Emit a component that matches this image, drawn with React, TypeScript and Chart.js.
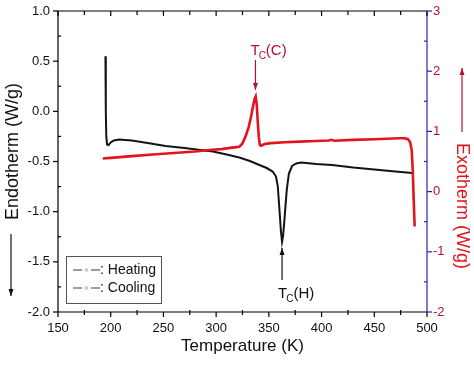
import React, { useEffect, useRef } from "react";
import { Chart, registerables } from "chart.js";
Chart.register(...registerables);

const heatingT = [195.0, 195.2, 195.5, 195.8, 196.5, 198, 200, 203, 208, 220, 235, 252, 270, 285, 297, 310, 322, 332, 341, 348, 353.6, 356.8, 358.5, 359.5, 360.5, 361.5, 362.5, 363.5, 364.5, 365.5, 367, 369, 372, 376, 380.5, 395, 410, 430, 450, 470, 486];
const heatingW = [0.55, 0.3, 0.0, -0.25, -0.33, -0.336, -0.31, -0.29, -0.28, -0.29, -0.315, -0.345, -0.365, -0.385, -0.4, -0.43, -0.46, -0.495, -0.535, -0.565, -0.6, -0.65, -0.75, -0.9, -1.05, -1.2, -1.3, -1.24, -1.12, -0.98, -0.78, -0.62, -0.545, -0.52, -0.51, -0.525, -0.535, -0.56, -0.58, -0.6, -0.615];

const coolingT = [192.5, 200, 220, 240, 260, 280, 293.5, 305, 315, 322, 325, 328.4, 331, 333, 335, 336.5, 337.5, 338.5, 339.5, 340.5, 341.5, 343, 346, 352, 365, 379, 395, 407, 409, 412, 430, 450, 474, 479, 482, 484, 485.5, 486.5, 487.3, 488.3];
const coolingW = [0.55, 0.56, 0.59, 0.615, 0.64, 0.665, 0.69, 0.705, 0.73, 0.745, 0.8, 0.94, 1.08, 1.24, 1.42, 1.54, 1.58, 1.45, 1.15, 0.9, 0.77, 0.765, 0.79, 0.805, 0.82, 0.83, 0.84, 0.85, 0.86, 0.845, 0.86, 0.87, 0.885, 0.885, 0.87, 0.82, 0.69, 0.35, -0.1, -0.58];

const xTicks = [150, 200, 250, 300, 350, 400, 450, 500];
const xMinor = [175, 225, 275, 325, 375, 425, 475];
const leftTicks = [1.0, 0.5, 0.0, -0.5, -1.0, -1.5, -2.0];
const leftMinor = [0.75, 0.25, -0.25, -0.75, -1.25, -1.75];
const rightTicks = [3, 2, 1, 0, -1, -2];
const rightMinor = [2.5, 1.5, 0.5, -0.5, -1.5];

const FONT = '"Liberation Sans", Arial, sans-serif';
const RED = "#e3141e";
const DARKRED = "#b5112e";
const BLUE = "#2424b4";

function arrow(ctx: CanvasRenderingContext2D, x: number, y1: number, y2: number, color: string) {
  ctx.save();
  ctx.strokeStyle = color;
  ctx.fillStyle = color;
  ctx.lineWidth = 1.2;
  ctx.beginPath();
  ctx.moveTo(x, y1);
  ctx.lineTo(x, y2);
  ctx.stroke();
  const d = y2 > y1 ? 1 : -1;
  ctx.beginPath();
  ctx.moveTo(x, y2);
  ctx.lineTo(x - 2.5, y2 - d * 7);
  ctx.lineTo(x + 2.5, y2 - d * 7);
  ctx.closePath();
  ctx.fill();
  ctx.restore();
}

function tcLabel(ctx: CanvasRenderingContext2D, x: number, y: number, tail: string, color: string) {
  ctx.save();
  ctx.fillStyle = color;
  ctx.textBaseline = "alphabetic";
  ctx.textAlign = "left";
  ctx.font = `15px ${FONT}`;
  ctx.fillText("T", x, y);
  let w = ctx.measureText("T").width;
  ctx.font = `10px ${FONT}`;
  ctx.fillText("C", x + w - 1, y + 4);
  w += ctx.measureText("C").width - 1;
  ctx.font = `15px ${FONT}`;
  ctx.fillText(tail, x + w, y);
  ctx.restore();
}

const axesPlugin = {
  id: "customAxes",
  afterDraw(chart: any) {
    const ctx: CanvasRenderingContext2D = chart.ctx;
    const { left, right, top, bottom } = chart.chartArea;
    const xs = chart.scales.x;
    const ys = chart.scales.y;
    const y2 = chart.scales.y2;
    ctx.save();
    ctx.lineWidth = 1.2;
    ctx.strokeStyle = "#000";
    ctx.beginPath();
    ctx.moveTo(right, top);
    ctx.lineTo(left, top);
    ctx.lineTo(left, bottom);
    ctx.lineTo(right, bottom);
    ctx.stroke();
    ctx.strokeStyle = BLUE;
    ctx.beginPath();
    ctx.moveTo(right, top);
    ctx.lineTo(right, bottom);
    ctx.stroke();

    ctx.strokeStyle = "#000";
    ctx.fillStyle = "#111";
    ctx.font = `13px ${FONT}`;
    ctx.textAlign = "center";
    ctx.textBaseline = "middle";
    xTicks.forEach((v) => {
      const px = xs.getPixelForValue(v);
      ctx.beginPath();
      ctx.moveTo(px, bottom);
      ctx.lineTo(px, bottom + 5);
      ctx.moveTo(px, top);
      ctx.lineTo(px, top + 5);
      ctx.stroke();
      ctx.fillText(String(v), px, bottom + 16);
    });
    xMinor.forEach((v) => {
      const px = xs.getPixelForValue(v);
      ctx.beginPath();
      ctx.moveTo(px, bottom - 2);
      ctx.lineTo(px, bottom + 3);
      ctx.moveTo(px, top);
      ctx.lineTo(px, top + 4);
      ctx.stroke();
    });

    ctx.textAlign = "right";
    ctx.textBaseline = "middle";
    leftTicks.forEach((v) => {
      const py = ys.getPixelForValue(v);
      ctx.beginPath();
      ctx.moveTo(left - 5, py);
      ctx.lineTo(left, py);
      ctx.stroke();
      ctx.fillText(v.toFixed(1), left - 8, py);
    });
    leftMinor.forEach((v) => {
      const py = ys.getPixelForValue(v);
      ctx.beginPath();
      ctx.moveTo(left, py);
      ctx.lineTo(left + 3, py);
      ctx.stroke();
    });

    ctx.strokeStyle = BLUE;
    ctx.fillStyle = DARKRED;
    ctx.textAlign = "left";
    rightTicks.forEach((v) => {
      const py = y2.getPixelForValue(v);
      ctx.beginPath();
      ctx.moveTo(right, py);
      ctx.lineTo(right + 5, py);
      ctx.stroke();
      ctx.fillText(String(v), right + 6, py);
    });
    rightMinor.forEach((v) => {
      const py = y2.getPixelForValue(v);
      ctx.beginPath();
      ctx.moveTo(right - 3, py);
      ctx.lineTo(right, py);
      ctx.stroke();
    });

    ctx.fillStyle = "#111";
    ctx.font = `17px ${FONT}`;
    ctx.textAlign = "center";
    ctx.textBaseline = "middle";
    ctx.fillText("Temperature (K)", 242.5, 346);

    ctx.font = `18px ${FONT}`;
    ctx.save();
    ctx.translate(13, 151.5);
    ctx.rotate(-Math.PI / 2);
    ctx.fillText("Endotherm (W/g)", 0, 0);
    ctx.restore();
    arrow(ctx, 11, 234, 296, "#111");

    ctx.save();
    ctx.fillStyle = RED;
    ctx.translate(462, 206);
    ctx.rotate(Math.PI / 2);
    ctx.fillText("Exotherm (W/g)", 0, 0);
    ctx.restore();
    arrow(ctx, 462, 132, 68, DARKRED);

    const pkX = xs.getPixelForValue(337.3);
    tcLabel(ctx, pkX - 5, 55, "(C)", DARKRED);
    arrow(ctx, pkX, 60, 90, DARKRED);
    const mnX = xs.getPixelForValue(362.5);
    arrow(ctx, mnX, 280, 248, "#111");
    tcLabel(ctx, mnX - 4, 298, "(H)", "#111");

    ctx.strokeStyle = "#555";
    ctx.lineWidth = 1;
    ctx.strokeRect(66.5, 256.5, 95, 47);
    const entries: [string, string, number][] = [
      ["#3a3a3a", ": Heating", 270],
      ["#3434b8", ": Cooling", 288],
    ];
    entries.forEach(([c, label, y]) => {
      ctx.strokeStyle = c;
      ctx.lineWidth = 1.2;
      ctx.beginPath();
      ctx.moveTo(73, y);
      ctx.lineTo(82, y);
      ctx.moveTo(91, y);
      ctx.lineTo(100, y);
      ctx.stroke();
      ctx.strokeStyle = "#999";
      ctx.lineWidth = 0.8;
      ctx.beginPath();
      ctx.arc(86.5, y, 1.3, 0, Math.PI * 2);
      ctx.stroke();
      ctx.fillStyle = "#111";
      ctx.font = `14px ${FONT}`;
      ctx.textAlign = "left";
      ctx.textBaseline = "middle";
      ctx.fillText(label, 100, y);
    });
    ctx.restore();
  },
};

export default function App() {
  const ref = useRef<HTMLCanvasElement>(null);
  useEffect(() => {
    document.body.style.margin = "0";
    const heat = heatingT.map((t, i) => ({ x: t, y: heatingW[i] }));
    const cool = coolingT.map((t, i) => ({ x: t, y: coolingW[i] }));
    const chart = new Chart(ref.current!, {
      type: "line",
      data: {
        datasets: [
          {
            label: "Heating",
            data: heat,
            borderColor: "#141414",
            borderWidth: 2,
            pointRadius: 0,
            tension: 0,
            yAxisID: "y",
            order: 1,
          },
          {
            label: "Cooling",
            data: cool,
            borderColor: RED,
            borderWidth: 2.6,
            pointRadius: 0,
            tension: 0,
            yAxisID: "y2",
            order: 0,
          },
        ],
      },
      options: {
        responsive: false,
        animation: false,
        layout: { padding: { left: 58, top: 11, right: 47, bottom: 58 } },
        plugins: { legend: { display: false }, tooltip: { enabled: false } },
        scales: {
          x: { type: "linear", min: 150, max: 500, display: false },
          y: { type: "linear", min: -2, max: 1, display: false },
          y2: { type: "linear", min: -2, max: 3, display: false, position: "right" },
        },
      },
      plugins: [axesPlugin],
    });
    return () => chart.destroy();
  }, []);
  return <canvas ref={ref} width={474} height={370} style={{ display: "block" }} />;
}
